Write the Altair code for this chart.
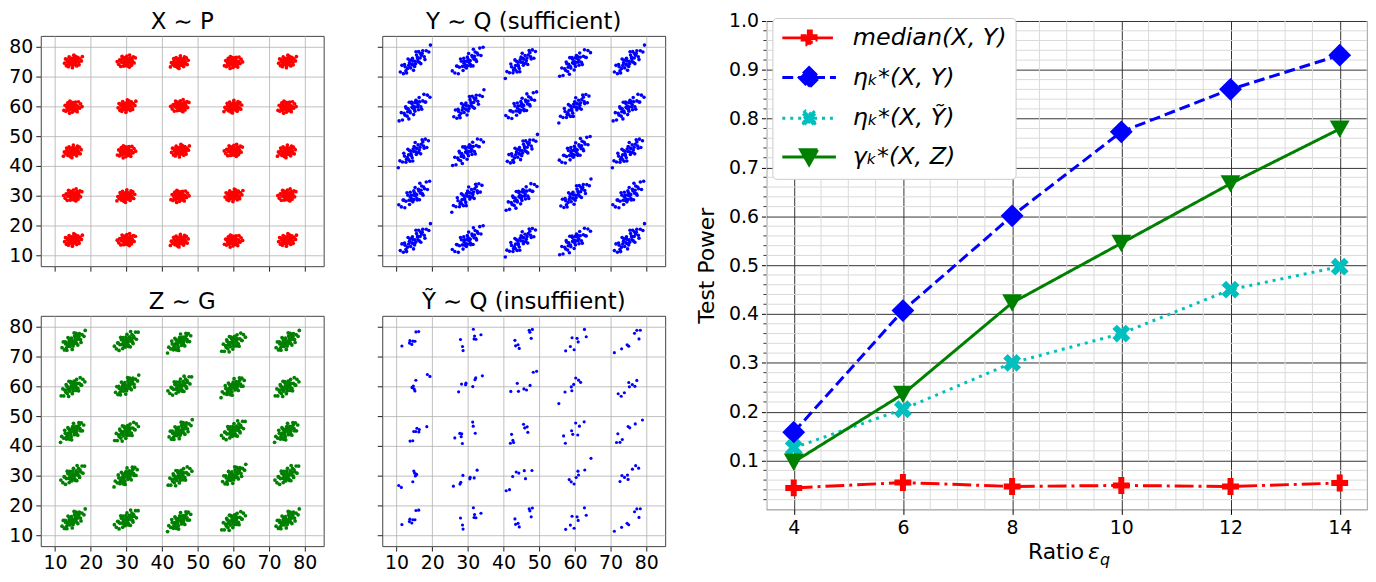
import math
import altair as alt
import pandas as pd

FONT = "DejaVu Sans"

# ---------------- scatter panels ----------------
CENTERS = [15, 30, 45, 60, 75]

# hand-typed unit offsets describing the scatter inside one cloud
OFF_A = [
    (-0.21, 0.34), (0.52, -0.41), (1.13, 0.78), (-0.98, -0.62), (0.31, 1.22),
    (-0.64, 0.91), (1.42, -0.18), (-1.33, 0.12), (0.04, -1.07), (0.83, 0.09),
    (-0.37, -0.24), (0.18, -0.63), (-0.91, 1.47), (1.71, 0.88), (-1.58, -1.19),
    (0.62, 1.69), (-0.12, -1.81), (2.08, 0.27), (-2.02, -0.43), (0.93, -1.28),
    (-0.71, 0.42), (0.44, 0.57), (-0.28, 1.03), (1.21, 1.36), (-1.12, -1.49),
    (0.09, 0.02), (-0.53, -0.88), (0.71, -0.79), (1.52, -0.93), (-1.41, 0.68),
    (0.23, 2.02), (-0.82, -0.07), (1.02, 0.49), (-0.19, -0.52), (0.48, 0.21),
    (-1.79, 0.86), (2.31, 1.58), (-0.33, 0.71), (0.88, 1.04), (-1.22, -0.91),
]
OFF_B = [
    (0.15, -0.22), (-0.47, 0.53), (0.96, 0.31), (-1.21, -0.11), (0.37, -0.97),
    (-0.08, 1.14), (1.33, 0.72), (-0.69, -1.33), (0.58, 0.88), (-1.52, 0.41),
    (0.27, 0.05), (-0.31, -0.46), (1.88, -0.35), (-0.93, 0.97), (0.74, -1.61),
    (-1.87, -0.78), (0.11, 1.73), (1.16, -0.64), (-0.56, 0.17), (2.19, 1.21),
    (-0.22, -1.18), (0.65, 0.44), (-1.06, 1.62), (1.47, 0.19), (-0.42, -0.71),
    (0.02, 0.61), (-1.37, -1.42), (0.89, -0.28), (-0.14, 0.26), (1.71, 1.47),
    (-2.24, 0.04), (0.41, -1.35), (-0.77, -0.31), (1.04, 1.21), (-0.59, 1.31),
    (0.33, -0.09), (-1.63, 0.55), (0.79, 2.06), (-0.05, -0.83), (1.25, -1.08),
]

PANEL_TITLES = ["X ∼ P", "Y ∼ Q (sufficient)", "Z ∼ G", "Ỹ ∼ Q (insuffiient)"]
PANEL_COLORS = ["#ff0000", "#0000ff", "#008000", "#0000ff"]
# (x spread, y spread, correlation) of each cloud
PANEL_SPREAD = [(1.15, 1.1, 0.0), (1.95, 2.05, 0.68), (1.5, 1.55, 0.45), (1.95, 2.1, 0.72)]
PANEL_NPTS = [40, 40, 40, 8]
AXIS_TICKS = [10, 20, 30, 40, 50, 60, 70, 80]


def cluster_points(panel):
    sx, sy, r = PANEL_SPREAD[panel]
    n = PANEL_NPTS[panel]
    rows = []
    for i, cy in enumerate(CENTERS):
        for j, cx in enumerate(CENTERS):
            k = 5 * i + j
            base = OFF_A if k % 2 == 0 else OFF_B
            sign = 1 if (k // 2) % 2 == 0 else -1
            if n >= len(base):
                idx = list(range(len(base)))
            else:
                idx = [(k * 7 + m * 5) % len(base) for m in range(n)]
            for t in idx:
                u, v = base[t]
                u, v = sign * u, sign * v
                rows.append({"x": cx + sx * u,
                             "y": cy + sy * (r * u + math.sqrt(1 - r * r) * v)})
    return pd.DataFrame(rows)


def scatter(panel, xlabels, ylabels, size):
    ax_common = dict(values=AXIS_TICKS, grid=True, gridColor="#b0b0b0", gridWidth=0.8,
                     domain=False, ticks=True, tickColor="#222", tickSize=5,
                     labelFont=FONT, labelFontSize=19, labelColor="black",
                     labelPadding=3, title=None)
    return alt.Chart(
        cluster_points(panel),
        title=alt.TitleParams(PANEL_TITLES[panel], font=FONT, fontSize=23,
                              fontWeight="normal", color="black", offset=2),
    ).mark_circle(size=size, opacity=1, color=PANEL_COLORS[panel]).encode(
        x=alt.X("x:Q", scale=alt.Scale(domain=[6, 85.3], nice=False, zero=False),
                axis=alt.Axis(labels=xlabels, **ax_common)),
        y=alt.Y("y:Q", scale=alt.Scale(domain=[6.3, 83.7], nice=False, zero=False),
                axis=alt.Axis(labels=ylabels, **ax_common)),
    ).properties(width=285, height=232,
                 view=alt.ViewBackground(stroke="#444", strokeWidth=1))


p1 = scatter(0, False, True, 14)
p2 = scatter(1, False, False, 13)
p3 = scatter(2, True, True, 14)
p4 = scatter(3, True, False, 10)

spacer = alt.Chart(pd.DataFrame({"a": [0]})).mark_point(opacity=0).encode(
    x=alt.value(0), y=alt.value(0)
).properties(width=1, height=1, view=alt.ViewBackground(strokeOpacity=0))

left = alt.vconcat(
    spacer,
    alt.vconcat(
        alt.hconcat(p1, p2, spacing=52),
        alt.hconcat(p3, p4, spacing=52),
        spacing=18,
    ),
    spacing=-14,
)

# ---------------- test power chart ----------------
RATIO = [4, 6, 8, 10, 12, 14]
POWER_MEDIAN = [0.044, 0.055, 0.047, 0.049, 0.047, 0.054]
POWER_ETA = [0.158, 0.407, 0.601, 0.773, 0.860, 0.930]
POWER_ETA_TILDE = [0.126, 0.205, 0.300, 0.360, 0.450, 0.497]
POWER_GAMMA = [0.097, 0.236, 0.423, 0.545, 0.667, 0.779]

SERIES = ["median(X, Y)", "ηₖ*(X, Y)", "ηₖ*(X, Ỹ)", "γₖ*(X, Z)"]
SERIES_COLORS = ["#ff0000", "#0000ff", "#00bfbf", "#008000"]
SERIES_DASH = [[19, 5, 3, 5], [11, 5], [3, 5], [1, 0]]

Y_MAJOR = [0.1, 0.2, 0.3, 0.4, 0.5, 0.6, 0.7, 0.8, 0.9, 1.0]
Y_MINOR = [0.02, 0.04, 0.06, 0.08, 0.12, 0.14, 0.16, 0.18, 0.22, 0.24, 0.26, 0.28,
           0.32, 0.34, 0.36, 0.38, 0.42, 0.44, 0.46, 0.48, 0.52, 0.54, 0.56, 0.58,
           0.62, 0.64, 0.66, 0.68, 0.72, 0.74, 0.76, 0.78, 0.82, 0.84, 0.86, 0.88,
           0.92, 0.94, 0.96, 0.98]
X_MINOR = [3.5, 4.5, 5, 5.5, 6.5, 7, 7.5, 8.5, 9, 9.5, 10.5, 11, 11.5, 12.5, 13, 13.5, 14.5]

PLUS = "M-0.3,-0.85H0.3V-0.3H0.85V0.3H0.3V0.85H-0.3V0.3H-0.85V-0.3H-0.3Z"
DIAMOND = "M0,-1.15L1.15,0L0,1.15L-1.15,0Z"
XMARK = ("M0.45,-0.9L0.9,-0.45L0.45,0L0.9,0.45L0.45,0.9L0,0.45L-0.45,0.9"
         "L-0.9,0.45L-0.45,0L-0.9,-0.45L-0.45,-0.9L0,-0.45Z")
TRI = "M-1,-0.85L1,-0.85L0,0.9Z"
MARKERS = [PLUS, DIAMOND, XMARK, TRI]

LEG_PLUS = "M-0.22,-0.7H0.22V-0.22H0.7V0.22H0.22V0.7H-0.22V0.22H-0.7V-0.22H-0.22Z"
LEG_DIAMOND = "M0,-1.0L1.0,0L0,1.0L-1.0,0Z"
LEG_X = ("M0.36,-0.72L0.72,-0.36L0.36,0L0.72,0.36L0.36,0.72L0,0.36L-0.36,0.72"
         "L-0.72,0.36L-0.36,0L-0.72,-0.36L-0.36,-0.72L0,-0.36Z")
LEG_TRI = "M-0.85,-0.72L0.85,-0.72L0,0.78Z"
LEG_LINE = "M-2.7,0H2.7"
LEGEND_SHAPES = [LEG_LINE + m for m in [LEG_PLUS, LEG_DIAMOND, LEG_X, LEG_TRI]]

rows = []
for name, vals in zip(SERIES, [POWER_MEDIAN, POWER_ETA, POWER_ETA_TILDE, POWER_GAMMA]):
    for r, v in zip(RATIO, vals):
        rows.append({"s": name, "ratio": r, "power": v})
power_df = pd.DataFrame(rows)

xscale = alt.Scale(domain=[3.5, 14.5], nice=False, zero=False)
yscale = alt.Scale(domain=[0, 1.0], nice=False, zero=False)
cscale = alt.Scale(domain=SERIES, range=SERIES_COLORS)
dscale = alt.Scale(domain=SERIES, range=SERIES_DASH)

AXIS_X = alt.Axis(
    values=RATIO, grid=True, gridColor="#333", gridWidth=1, domain=False,
    tickColor="black", tickSize=5, labelFont=FONT, labelFontSize=19,
    labelColor="black", labelPadding=4, title=None)
AXIS_Y = alt.Axis(
    values=Y_MAJOR, format=".1f", grid=True, gridColor="#333", gridWidth=1,
    domain=False, tickColor="black", tickSize=5, labelFont=FONT, labelFontSize=19,
    labelColor="black", labelPadding=3, title="Test Power", titleFont=FONT,
    titleFontSize=22, titleFontWeight="normal", titleColor="black", titlePadding=10)

X = alt.X("ratio:Q", scale=xscale, axis=AXIS_X)
Y = alt.Y("power:Q", scale=yscale, axis=AXIS_Y)

minor_y = alt.Chart(pd.DataFrame({"v": Y_MINOR})).mark_rule(
    color="#dadada", strokeWidth=1).encode(y=alt.Y("v:Q", scale=yscale, axis=AXIS_Y))
minor_x = alt.Chart(pd.DataFrame({"v": X_MINOR})).mark_rule(
    color="#dadada", strokeWidth=1).encode(x=alt.X("v:Q", scale=xscale, axis=AXIS_X))
minor_ticks = alt.Chart(pd.DataFrame({"v": Y_MINOR})).mark_rule(
    color="#333", strokeWidth=1).encode(
    y=alt.Y("v:Q", scale=yscale, axis=AXIS_Y), x=alt.value(-3), x2=alt.value(0))

base = alt.Chart(power_df)
lines = base.mark_line(strokeWidth=3).encode(
    x=X, y=Y,
    color=alt.Color("s:N", scale=cscale, legend=None),
    strokeDash=alt.StrokeDash("s:N", scale=dscale, legend=None),
    order=alt.Order("ratio:Q"),
)
points = base.mark_point(filled=True, opacity=1, size=400).encode(
    x=X, y=Y,
    color=alt.Color("s:N", scale=cscale, legend=None),
    shape=alt.Shape("s:N", scale=alt.Scale(domain=SERIES, range=MARKERS), legend=None),
)

leg = alt.Legend(orient="none", legendX=6, legendY=-3, title=None, padding=8,
                 symbolOffset=17, labelOffset=32, rowPadding=11, symbolSize=400,
                 symbolStrokeWidth=3, labelFont=FONT, labelFontSize=24,
                 labelFontStyle="italic", labelColor="black", labelLimit=400,
                 fillColor="white", strokeColor="#cccccc", cornerRadius=4)
legend_layer = base.transform_filter("datum.power < 0").mark_point(
    filled=True, opacity=1, strokeWidth=3).encode(
    x=X, y=Y,
    fill=alt.Fill("s:N", scale=cscale, legend=leg),
    stroke=alt.Stroke("s:N", scale=cscale, legend=leg),
    strokeDash=alt.StrokeDash("s:N", scale=dscale, legend=leg),
    shape=alt.Shape("s:N", scale=alt.Scale(domain=SERIES, range=LEGEND_SHAPES), legend=leg),
)

XT1 = ["Ratio"]
XT2 = ["ε"]
XT3 = ["q"]
t1 = alt.Chart(pd.DataFrame({"t": XT1})).mark_text(
    font=FONT, fontSize=22, align="right", baseline="alphabetic", color="black"
).encode(text="t:N", x=alt.value(320), y=alt.value(542))
t2 = alt.Chart(pd.DataFrame({"t": XT2})).mark_text(
    font=FONT, fontSize=22, fontStyle="italic", align="left", baseline="alphabetic",
    color="black").encode(text="t:N", x=alt.value(324), y=alt.value(542))
t3 = alt.Chart(pd.DataFrame({"t": XT3})).mark_text(
    font=FONT, fontSize=16, fontStyle="italic", align="left", baseline="alphabetic",
    color="black").encode(text="t:N", x=alt.value(336), y=alt.value(548))

right = alt.layer(minor_y, minor_x, minor_ticks, lines, points, legend_layer, t1, t2, t3).resolve_scale(
    color="independent", shape="independent", strokeDash="independent",
    fill="independent", stroke="independent",
).properties(width=605, height=492,
             view=alt.ViewBackground(stroke="#888", strokeWidth=1))

chart = alt.hconcat(left, right, spacing=29).properties(
    padding={"left": 0, "top": 0, "right": 0, "bottom": 0}
).configure_view(fill="white")

chart.save("out.html", embed_options={"renderer": "svg", "actions": False})
